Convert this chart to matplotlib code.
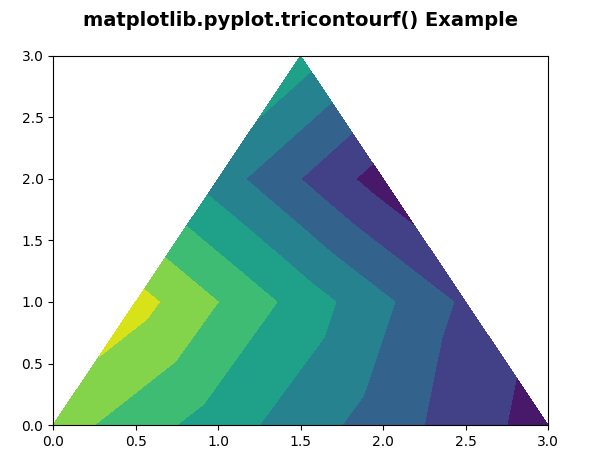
import matplotlib.pyplot as plt
import matplotlib.tri as mtri
import numpy as np

# node coordinates of the triangle mesh
x = [0, 1, 2, 3, 0.5, 1.5, 2.5, 1, 2, 1.5]
y = [0, 0, 0, 0, 1.0, 1.0, 1.0, 2, 2, 3.0]
triangles = [[0, 1, 4], [1, 5, 4], [2, 6, 5], [4, 5, 7], [5, 6, 8],
             [5, 8, 7], [7, 8, 9], [1, 2, 5], [2, 3, 6]]
# values at nodes
z = [6.5, 4.5, 2.5, 0.5, 7.4, 4.6, 1.8, 3.5, 0.5, 4.5]

fig = plt.figure(figsize=(5.9, 4.62), dpi=100)
fig.subplots_adjust(left=0.09, right=0.929, top=0.879, bottom=0.08)
triang = mtri.Triangulation(np.array(x), np.array(y), triangles)
plt.tricontourf(triang, np.array(z), levels=np.arange(0, 9))
plt.xlim(0, 3)
plt.ylim(0, 3)
plt.title('matplotlib.pyplot.tricontourf() Example\n', fontsize=14, fontweight='bold')
plt.savefig('out.png', dpi=100)
